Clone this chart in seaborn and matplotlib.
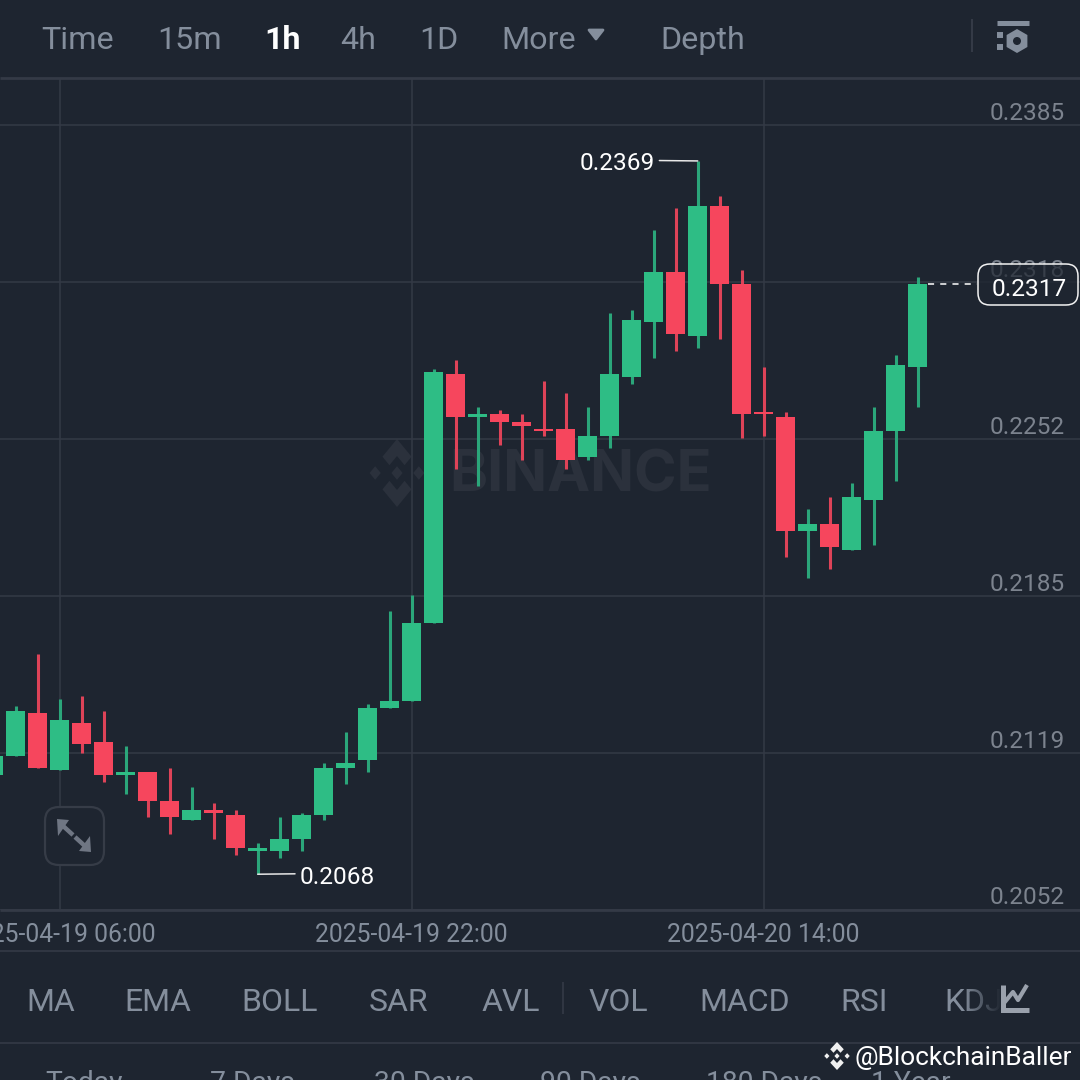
import matplotlib
matplotlib.use('Agg')
import matplotlib.pyplot as plt
from matplotlib.colors import to_rgba
from matplotlib.patches import FancyBboxPatch, Polygon, Circle
import numpy as np
import pandas as pd
import seaborn as sns

# hours counted from 2025-04-19 06:00
hours = list(range(-3, 40))
opens = [0.2110, 0.2118, 0.2136, 0.2112, 0.2132, 0.2124, 0.2110, 0.2111, 0.2099, 0.2091, 0.2095,
         0.2093, 0.2078, 0.2078, 0.2083, 0.2093, 0.2113, 0.2116, 0.2138, 0.2141, 0.2174, 0.2279,
         0.2261, 0.2262, 0.2259, 0.2256, 0.2256, 0.2244, 0.2253, 0.2278, 0.2301, 0.2322, 0.2295,
         0.2350, 0.2317, 0.2263, 0.2261, 0.2213, 0.2216, 0.2205, 0.2226, 0.2255, 0.2282]
highs = [0.2118, 0.2139, 0.2161, 0.2142, 0.2143, 0.2137, 0.2122, 0.2111, 0.2113, 0.2105, 0.2098,
         0.2095, 0.2081, 0.2092, 0.2094, 0.2115, 0.2128, 0.2140, 0.2179, 0.2186, 0.2281, 0.2285,
         0.2265, 0.2264, 0.2262, 0.2276, 0.2271, 0.2265, 0.2305, 0.2306, 0.2340, 0.2349, 0.2369,
         0.2354, 0.2323, 0.2282, 0.2263, 0.2222, 0.2227, 0.2233, 0.2265, 0.2287, 0.2320]
lows = [0.2110, 0.2118, 0.2113, 0.2112, 0.2119, 0.2107, 0.2102, 0.2092, 0.2085, 0.2091, 0.2083,
        0.2076, 0.2068, 0.2075, 0.2078, 0.2091, 0.2106, 0.2111, 0.2138, 0.2141, 0.2174, 0.2239,
        0.2232, 0.2249, 0.2243, 0.2253, 0.2239, 0.2243, 0.2248, 0.2275, 0.2286, 0.2289, 0.2290,
        0.2294, 0.2252, 0.2253, 0.2202, 0.2193, 0.2197, 0.2205, 0.2207, 0.2234, 0.2265]
closes = [0.2118, 0.2137, 0.2113, 0.2133, 0.2123, 0.2110, 0.2111, 0.2099, 0.2092, 0.2095, 0.2094,
          0.2079, 0.2079, 0.2083, 0.2093, 0.2113, 0.2115, 0.2138, 0.2141, 0.2174, 0.2280, 0.2261,
          0.2262, 0.2259, 0.2257, 0.2255, 0.2243, 0.2253, 0.2279, 0.2302, 0.2322, 0.2296, 0.2350,
          0.2317, 0.2262, 0.2262, 0.2213, 0.2216, 0.2206, 0.2227, 0.2255, 0.2283, 0.2317]

grid_levels = [0.23841, 0.23179, 0.22516, 0.21854, 0.21191, 0.20529]
price_labels = ['0.2385', '0.2318', '0.2252', '0.2185', '0.2119', '0.2052']
time_ticks = [0, 16, 32]
time_labels = ['2025-04-19 06:00', '2025-04-19 22:00', '2025-04-20 14:00']

top_menu = [('Time', 41), ('15m', 157), ('1h', 264), ('4h', 340), ('1D', 419), ('More', 501), ('Depth', 660)]
indicators = [('MA', 26), ('EMA', 124), ('BOLL', 241), ('SAR', 369), ('AVL', 481),
              ('VOL', 589), ('MACD', 699), ('RSI', 840), ('KDJ', 944)]
ranges = [('Today', 45), ('7 Days', 210), ('30 Days', 374), ('90 Days', 540), ('180 Days', 706), ('1 Year', 871)]

BG = '#1E2530'
GREEN = '#2EBD85'
RED = '#F6465D'
GRID = '#343A46'
TEXT = '#848E9C'

sns.set_theme(style='dark', rc={
    'figure.facecolor': BG,
    'axes.facecolor': BG,
    'axes.axisbelow': True,
    'lines.solid_capstyle': 'butt',
})
plt.rcParams['font.family'] = ['Roboto', 'DejaVu Sans']


def logo(target, cx, cy, rx, ry, color, zorder=2):
    # diamond logo, y grows downwards on the pixel axes
    shapes = [
        [(0, 0.2), (0.2, 0), (0, -0.2), (-0.2, 0)],
        [(0.78, 0.2), (0.98, 0), (0.78, -0.2), (0.58, 0)],
        [(-0.78, 0.2), (-0.58, 0), (-0.78, -0.2), (-0.98, 0)],
        [(0, 1), (0.52, 0.48), (0.27, 0.23), (0, 0.5), (-0.27, 0.23), (-0.52, 0.48)],
        [(0, -1), (0.52, -0.48), (0.27, -0.23), (0, -0.5), (-0.27, -0.23), (-0.52, -0.48)],
    ]
    for pts in shapes:
        target.add_patch(Polygon([(cx + a * rx, cy - b * ry) for a, b in pts], fc=color, ec='none', zorder=zorder))


df = pd.DataFrame({'hour': hours, 'open': opens, 'high': highs, 'low': lows, 'close': closes})
df['dir'] = np.where(df['close'] >= df['open'], 'up', 'down')
df['bottom'] = df[['open', 'close']].min(axis=1)
df['body'] = (df['close'] - df['open']).abs()
wicks = df.melt(id_vars=['hour', 'dir'], value_vars=['high', 'low'], value_name='price')

fig = plt.figure(figsize=(10.8, 10.8), dpi=100)

# pixel layers under and over the chart
bg = fig.add_axes([0, 0, 1, 1], zorder=0)
ui = fig.add_axes([0, 0, 1, 1], zorder=3)
for layer in (bg, ui):
    layer.set_xlim(0, 1080)
    layer.set_ylim(1080, 0)
    layer.axis('off')
ui.patch.set_alpha(0)

ax = fig.add_axes([0, 170 / 1080, 1, 832 / 1080], zorder=1)
ax.patch.set_alpha(0)

# watermark
logo(bg, 397, 473, 28, 34, '#2B313C')
bg.text(449, 492, 'BINANCE', fontsize=41.5, fontweight='bold', family='Inter', color='#2B313C', va='baseline')

sns.lineplot(data=wicks, x='hour', y='price', hue='dir', units='hour', estimator=None,
             palette={'up': '#2BA67A', 'down': '#DE4358'}, linewidth=2.2, legend=False, ax=ax, zorder=0.8)
for name, color in (('up', GREEN), ('down', RED)):
    part = df[df['dir'] == name].sort_values('hour')
    sns.barplot(data=part, x='hour', y='body', bottom=part['bottom'].values, native_scale=True,
                color=color, saturation=1, width=0.875, errorbar=None, linewidth=0, ax=ax, zorder=1)

ax.set_xlim(-59.7 / 22, (1080 - 59.7) / 22)
ax.set_ylim(0.20529, 0.24040)
ax.set_xlabel('')
ax.set_ylabel('')
ax.set_xticks(time_ticks, time_labels)
ax.set_yticks(grid_levels, [''] * len(grid_levels))
ax.tick_params(axis='x', length=0, pad=9, labelsize=17.8, labelcolor=TEXT)
ax.tick_params(axis='y', length=0)
ax.grid(True, color=GRID, linewidth=1.1)
sns.despine(ax=ax, left=True, bottom=True)

# price labels sit above their grid line
for level, label in zip(grid_levels, price_labels):
    ax.annotate(label, xy=(1, level), xycoords=ax.get_yaxis_transform(), xytext=(-15 * 0.72, 12 * 0.72),
                textcoords='offset points', ha='right', va='center', fontsize=17.6, color='#7C838E')

# high / low markers
peak = int(np.argmax(highs))
trough = int(np.argmin(lows))
ax.annotate(f'{highs[peak]:.4f}', xy=(hours[peak], highs[peak]), xytext=(-43 * 0.72, -3 * 0.72),
            textcoords='offset points', ha='right', va='center', fontsize=17.6, color='white',
            arrowprops=dict(arrowstyle='-', color='#E8E8E8', lw=1.1, relpos=(1, 0.65), shrinkA=1, shrinkB=0))
ax.annotate(f'{lows[trough]:.4f}', xy=(hours[trough], lows[trough]), xytext=(42 * 0.72, -3 * 0.72),
            textcoords='offset points', ha='left', va='center', fontsize=17.6, color='white',
            arrowprops=dict(arrowstyle='-', color='#E8E8E8', lw=1.1, relpos=(0, 0.65), shrinkA=1, shrinkB=0))

# separators
for y, lw in ((78, 2.0), (910, 2.0), (951, 1.2), (1043, 1.2)):
    ui.plot([0, 1080], [y, y], color=GRID, lw=lw, solid_capstyle='butt')

# last price box
ui.plot([928, 977], [284, 284], color='white', lw=1.1, dashes=(4, 4))
ui.add_patch(FancyBboxPatch((978, 264), 100, 41, boxstyle='round,pad=0,rounding_size=12',
                            fc=to_rgba(BG, 0.72), ec='#F2F2F2', lw=1.1))
ui.text(992, 289, f'{closes[-1]:.4f}', fontsize=17.6, color='white', va='center', ha='left')

# top menu
for label, x in top_menu:
    active = label == '1h'
    ui.text(x, 49, label, fontsize=23.2, va='baseline', color='white' if active else TEXT,
            fontweight='bold' if active else 'normal')
ui.add_patch(Polygon([(589, 30), (603, 30), (596, 39)], fc=TEXT, ec=TEXT, lw=2, joinstyle='round'))
ui.plot([972, 972], [19, 52], color=GRID, lw=1.5)
ui.plot([997, 1029], [22.5, 22.5], color=TEXT, lw=3.6, solid_capstyle='butt')
ui.plot([997, 1003], [35, 35], color=TEXT, lw=4.3, solid_capstyle='butt')
ui.plot([997, 1003], [47, 47], color=TEXT, lw=4.3, solid_capstyle='butt')
hexagon = [(1017 + 12 * np.sin(a), 41 + 12 * np.cos(a)) for a in np.deg2rad(np.arange(0, 360, 60))]
ui.add_patch(Polygon(hexagon, fc=TEXT, ec='none'))
ui.add_patch(Circle((1017, 41), 4, fc=BG, ec='none'))

# expand button
ui.add_patch(FancyBboxPatch((45, 807), 59, 58, boxstyle='round,pad=0,rounding_size=14', fc=BG, ec='#363C47', lw=1.6))
ui.add_patch(Polygon([(57, 819), (69, 820), (58, 836)], fc='#6F7683', ec='none'))
ui.add_patch(Polygon([(91, 852), (79, 851), (90, 836)], fc='#6F7683', ec='none'))
ui.plot([62, 73], [825, 835], color='#6F7683', lw=3.2, solid_capstyle='butt')
ui.plot([75, 86], [837, 847], color='#6F7683', lw=3.2, solid_capstyle='butt')

# indicator row
for label, x in indicators:
    ui.text(x, 1011, label, fontsize=23, va='baseline', color=TEXT)
ui.plot([563, 563], [982, 1014], color=GRID, lw=1.2)
fade = np.zeros((1, 40, 4))
fade[..., :3] = to_rgba(BG)[:3]
fade[..., 3] = np.linspace(0, 1, 40)
ui.imshow(fade, extent=(962, 1002, 1020, 975), aspect='auto', zorder=4)
ui.set_xlim(0, 1080)
ui.set_ylim(1080, 0)
ui.plot([1003, 1003, 1029], [985, 1010, 1010], color='#9AA1AC', lw=3.6, solid_capstyle='butt', solid_joinstyle='miter', zorder=5)
ui.plot([1004, 1013, 1018, 1027], [1003, 992, 1000, 985], color='#9AA1AC', lw=3.0, zorder=5)

# range row, cut by the lower edge
for label, x in ranges:
    ui.text(x, 1091, label, fontsize=20.3, va='baseline', color=TEXT)

# user tag
logo(ui, 837, 1056, 13, 14, '#F0F0F0')
ui.text(855, 1065, '@BlockchainBaller', fontsize=18.9, va='baseline', color='white')

fig.savefig('out.png', dpi=100, facecolor=BG)
